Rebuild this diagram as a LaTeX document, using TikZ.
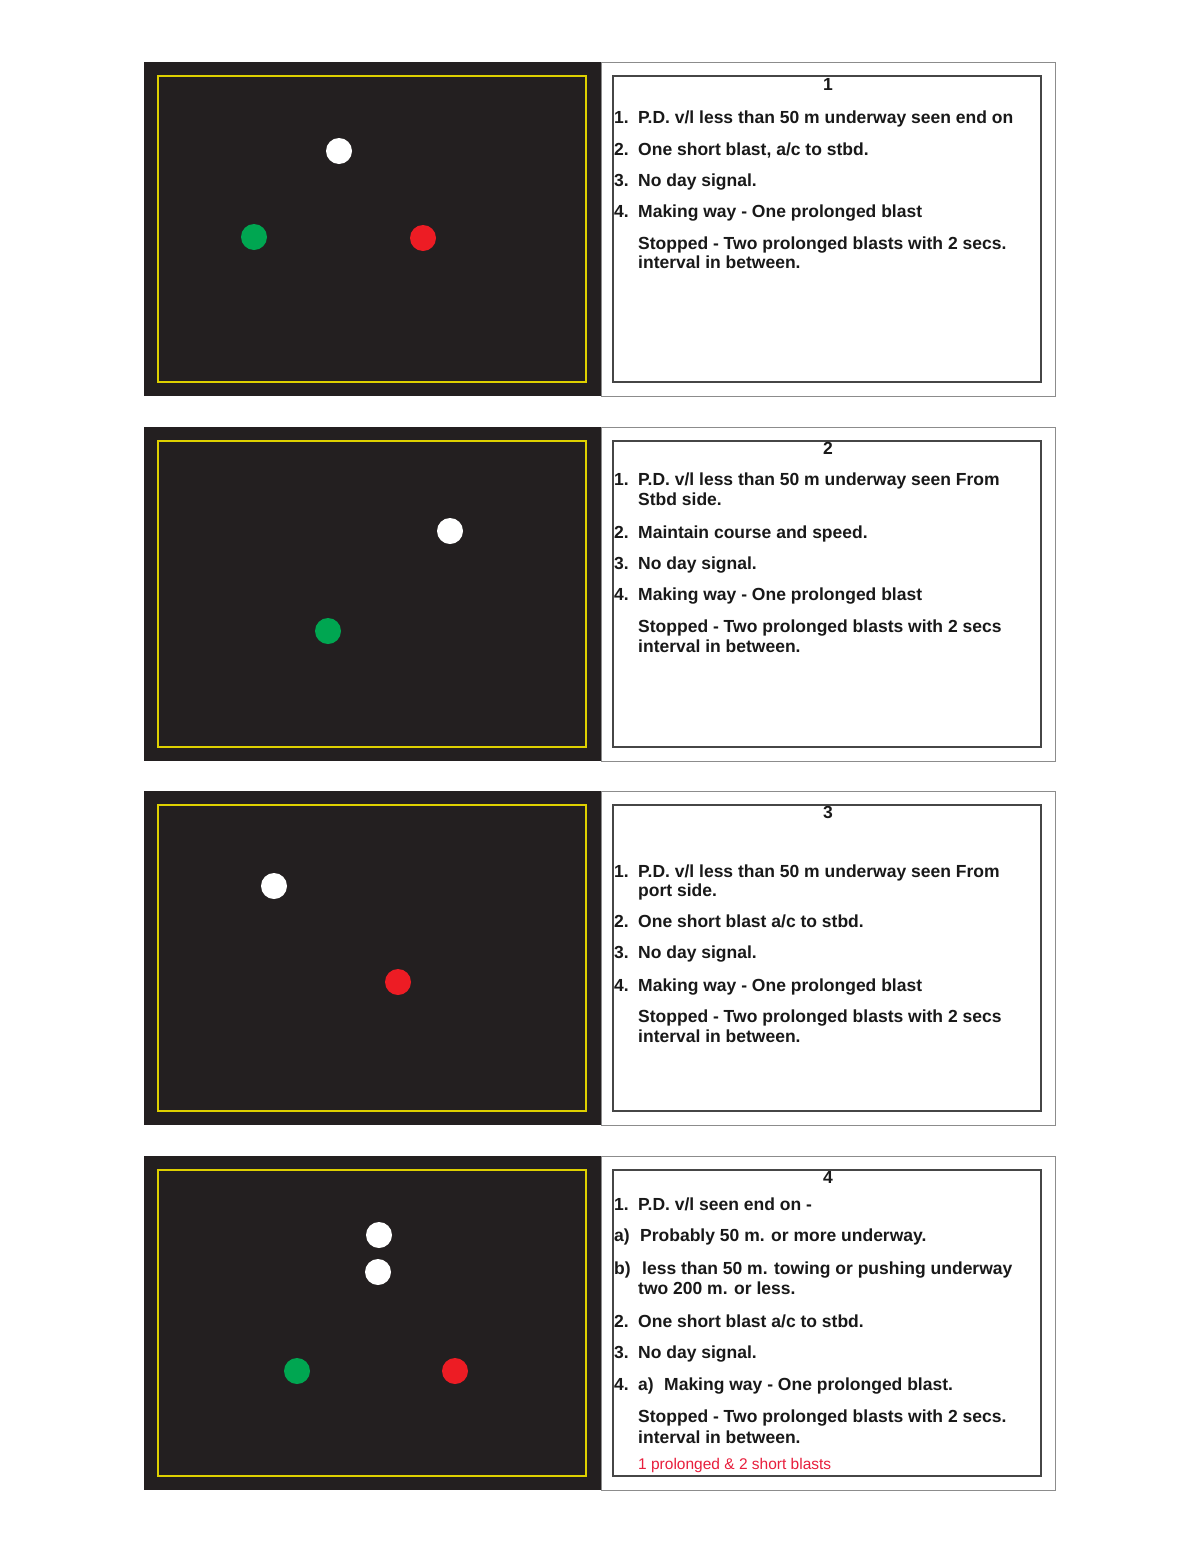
\documentclass[tikz,border=0pt]{standalone}
\usepackage{fontspec}
\setmainfont{Liberation Sans}
\definecolor{panelblack}{RGB}{35,31,32}
\definecolor{frameyellow}{RGB}{222,208,0}
\definecolor{lightgreen}{RGB}{0,166,81}
\definecolor{lightred}{RGB}{237,28,36}
\definecolor{notered}{RGB}{232,30,60}
\definecolor{framegray}{RGB}{70,70,70}
\tikzset{
  panelbg/.style={fill=panelblack,draw=none},
  outerframe/.style={draw=gray!90,line width=1pt},
  yellowframe/.style={draw=frameyellow,line width=1.6pt},
  textframe/.style={draw=framegray,line width=1.4pt},
  lamp/.style={circle,inner sep=0pt,minimum size=26pt,draw=none},
  txt/.style={anchor=base west,inner sep=0pt,font=\fontsize{17.5}{20}\selectfont\bfseries,text=black!90},
  ttl/.style={anchor=base,inner sep=0pt,font=\fontsize{17.5}{20}\selectfont\bfseries,text=black!90},
  note/.style={anchor=base west,inner sep=0pt,font=\fontsize{15.5}{18}\selectfont,text=notered}
}
\begin{document}
\begin{tikzpicture}[x=1pt,y=-1pt]
\useasboundingbox[fill=white] (0,0) rectangle (1200,1553);
% ---------- panel frames ----------
\foreach \T in {62,427,791,1156}{
  \fill[panelbg] (144,\T) rectangle (601,\T+334);
  \draw[outerframe] (601,\T) rectangle (1055,\T+334);
  \draw[yellowframe] (158,\T+14) rectangle (586,\T+320);
  \draw[textframe] (613,\T+14) rectangle (1041,\T+320);
}
% ---------- panel 1 ----------
\node[lamp,fill=white] (w1) at (339,151) {};
\node[lamp,fill=lightgreen] (g1) at (254,237) {};
\node[lamp,fill=lightred] (r1) at (423,238) {};
\node[ttl] (t1) at (828,90) {1};
\node[txt] (p1n1) at (614,123) {1.};
\node[txt] (p1a) at (638,123) {P.D. v/l less than 50 m underway seen end on};
\node[txt] (p1n2) at (614,155) {2.};
\node[txt] (p1b) at (638,155) {One short blast, a/c to stbd.};
\node[txt] (p1n3) at (614,186) {3.};
\node[txt] (p1c) at (638,186) {No day signal.};
\node[txt] (p1n4) at (614,217) {4.};
\node[txt] (p1d) at (638,217) {Making way - One prolonged blast};
\node[txt] (p1e) at (638,249) {Stopped - Two prolonged blasts with 2 secs.};
\node[txt] (p1f) at (638,268) {interval in between.};
% ---------- panel 2 ----------
\node[lamp,fill=white] (w2) at (450,531) {};
\node[lamp,fill=lightgreen] (g2) at (328,631) {};
\node[ttl] (t2) at (828,454) {2};
\node[txt] (p2n1) at (614,485) {1.};
\node[txt] (p2a) at (638,485) {P.D. v/l less than 50 m underway seen From};
\node[txt] (p2a2) at (638,505) {Stbd side.};
\node[txt] (p2n2) at (614,538) {2.};
\node[txt] (p2b) at (638,538) {Maintain course and speed.};
\node[txt] (p2n3) at (614,569) {3.};
\node[txt] (p2c) at (638,569) {No day signal.};
\node[txt] (p2n4) at (614,600) {4.};
\node[txt] (p2d) at (638,600) {Making way - One prolonged blast};
\node[txt] (p2e) at (638,632) {Stopped - Two prolonged blasts with 2 secs};
\node[txt] (p2f) at (638,652) {interval in between.};
% ---------- panel 3 ----------
\node[lamp,fill=white] (w3) at (274,886) {};
\node[lamp,fill=lightred] (r3) at (398,982) {};
\node[ttl] (t3) at (828,818) {3};
\node[txt] (p3n1) at (614,877) {1.};
\node[txt] (p3a) at (638,877) {P.D. v/l less than 50 m underway seen From};
\node[txt] (p3a2) at (638,896) {port side.};
\node[txt] (p3n2) at (614,927) {2.};
\node[txt] (p3b) at (638,927) {One short blast a/c to stbd.};
\node[txt] (p3n3) at (614,958) {3.};
\node[txt] (p3c) at (638,958) {No day signal.};
\node[txt] (p3n4) at (614,991) {4.};
\node[txt] (p3d) at (638,991) {Making way - One prolonged blast};
\node[txt] (p3e) at (638,1022) {Stopped - Two prolonged blasts with 2 secs};
\node[txt] (p3f) at (638,1042) {interval in between.};
% ---------- panel 4 ----------
\node[lamp,fill=white] (w4a) at (379,1235) {};
\node[lamp,fill=white] (w4b) at (378,1272) {};
\node[lamp,fill=lightgreen] (g4) at (297,1371) {};
\node[lamp,fill=lightred] (r4) at (455,1371) {};
\node[ttl] (t4) at (828,1183) {4};
\node[txt] (p4n1) at (614,1210) {1.};
\node[txt] (p4a) at (638,1210) {P.D. v/l seen end on -};
\node[txt] (p4la) at (614,1241) {a)};
\node[txt] (p4a1) at (640,1241) {Probably 50 m. or more underway.};
\node[txt] (p4lb) at (614,1274) {b)};
\node[txt] (p4b1) at (642,1274) {less than 50 m. towing or pushing underway};
\node[txt] (p4b2) at (638,1294) {two 200 m. or less.};
\node[txt] (p4n2) at (614,1327) {2.};
\node[txt] (p4c) at (638,1327) {One short blast a/c to stbd.};
\node[txt] (p4n3) at (614,1358) {3.};
\node[txt] (p4d) at (638,1358) {No day signal.};
\node[txt] (p4n4) at (614,1390) {4.};
\node[txt] (p4la2) at (638,1390) {a)};
\node[txt] (p4e) at (664,1390) {Making way - One prolonged blast.};
\node[txt] (p4f) at (638,1422) {Stopped - Two prolonged blasts with 2 secs.};
\node[txt] (p4g) at (638,1443) {interval in between.};
\node[note] (p4h) at (638,1469) {1 prolonged \& 2 short blasts};
\end{tikzpicture}
\end{document}
